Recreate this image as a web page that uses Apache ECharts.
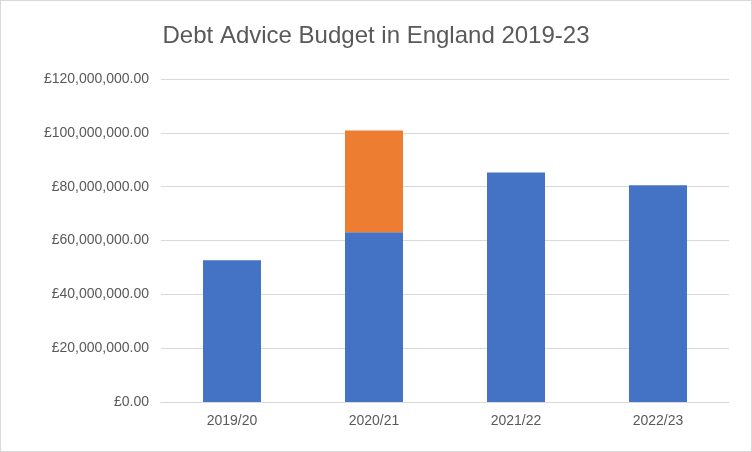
<!DOCTYPE html>
<html><head><meta charset="utf-8">
<script src="https://cdn.jsdelivr.net/npm/echarts@6/dist/echarts.min.js"></script>
<style>html,body{margin:0;padding:0;background:#fff}#c{width:750px;height:450px;border:1px solid #d9d9d9}</style>
</head><body><div id="c"></div>
<script>
const categories = ['2019/20','2020/21','2021/22','2022/23'];
const baseBudget = [52.7e6, 63.1e6, 85.3e6, 80.5e6];
const extraBudget = [null, 37.8e6, null, null];
const chart = echarts.init(document.getElementById('c'));
const fmt = v => '£' + v.toLocaleString('en-GB',{minimumFractionDigits:2,maximumFractionDigits:2});
chart.setOption({
  animation:false,
  title:{text:'Debt Advice Budget in England 2019-23',left:'center',top:18,
    textStyle:{fontFamily:'Liberation Sans',fontSize:24,fontWeight:'normal',color:'#595959'}},
  grid:{left:160,right:22,top:78,bottom:49},
  xAxis:{type:'category',data:categories,
    axisLine:{lineStyle:{color:'#d9d9d9'}},axisTick:{show:false},
    axisLabel:{color:'#595959',fontSize:14,fontFamily:'Liberation Sans',margin:12}},
  yAxis:{type:'value',min:0,max:120e6,interval:20e6,
    axisLine:{show:false},axisTick:{show:false},
    splitLine:{lineStyle:{color:'#d9d9d9'}},
    axisLabel:{color:'#595959',fontSize:14,fontFamily:'Liberation Sans',formatter:fmt,margin:12}},
  series:[
    {type:'bar',stack:'a',data:baseBudget,barWidth:58,itemStyle:{color:'#4472c4'}},
    {type:'bar',stack:'a',data:extraBudget,barWidth:58,itemStyle:{color:'#ed7d31'}}
  ]
});
</script></body></html>
